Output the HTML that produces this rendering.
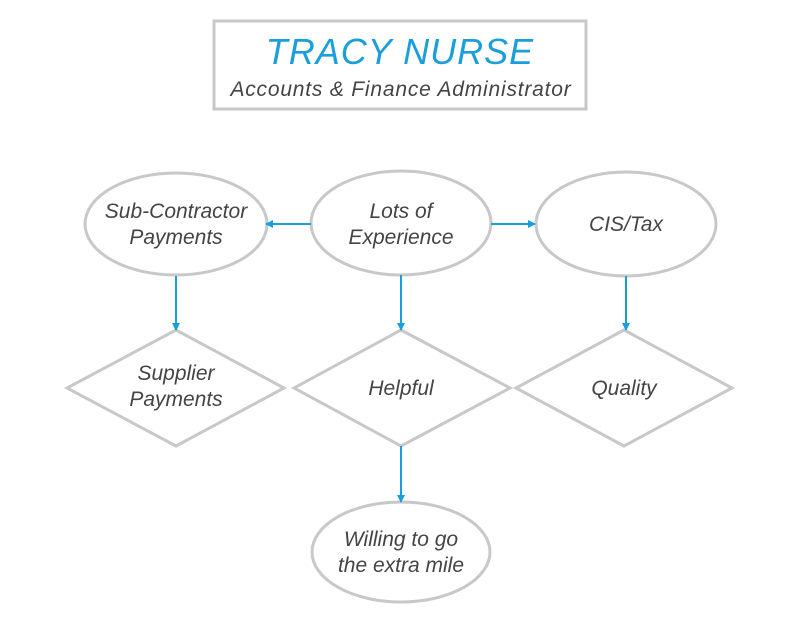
<!DOCTYPE html>
<html><head><meta charset="utf-8"><style>
html,body{margin:0;padding:0;background:#fff;}
svg{display:block;}
text{font-family:"Liberation Sans",sans-serif;font-style:italic;fill:#444;text-anchor:middle;}
</style></head><body>
<svg width="801" height="627" viewBox="0 0 801 627" xmlns="http://www.w3.org/2000/svg">
<defs><marker id="a" markerWidth="8" markerHeight="8" refX="7" refY="4" orient="auto" markerUnits="userSpaceOnUse"><path d="M0,0 L8,4 L0,8 Z" fill="#1a9fdb"/></marker></defs>
<rect x="214" y="21" width="372" height="88" fill="#fff" stroke="#c8c8c8" stroke-width="3"/>
<text x="400" y="64" style="font-size:36px;fill:#1a9fdb;letter-spacing:1px">TRACY NURSE</text>
<text x="401" y="96" style="font-size:21px;letter-spacing:0.8px">Accounts &amp; Finance Administrator</text>
<g fill="#fff" stroke="#c8c8c8" stroke-width="3">
<ellipse cx="176" cy="224" rx="91" ry="51"/>
<ellipse cx="401" cy="223" rx="90" ry="52"/>
<ellipse cx="626" cy="224" rx="90" ry="52"/>
<polygon points="176,330 284,388 176,446 67,388"/>
<polygon points="401,330 510,388 401,446 294,388"/>
<polygon points="624,330 732,388 624,446 516,388"/>
<ellipse cx="401" cy="552" rx="89" ry="50"/>
</g>
<g stroke="#1a9fdb" stroke-width="2" marker-end="url(#a)">
<line x1="311" y1="224" x2="266" y2="224"/>
<line x1="491" y1="224" x2="535" y2="224"/>
<line x1="176" y1="276" x2="176" y2="330"/>
<line x1="401" y1="275" x2="401" y2="330"/>
<line x1="626" y1="276" x2="626" y2="330"/>
<line x1="401" y1="446" x2="401" y2="502"/>
</g>
<g style="font-size:21px">
<text x="176" y="218">Sub-Contractor</text><text x="176" y="244">Payments</text>
<text x="401" y="218">Lots of</text><text x="401" y="244">Experience</text>
<text x="626" y="231">CIS/Tax</text>
<text x="176" y="380">Supplier</text><text x="176" y="406">Payments</text>
<text x="401" y="395">Helpful</text>
<text x="624" y="395">Quality</text>
<text x="401" y="546">Willing to go</text><text x="401" y="572">the extra mile</text>
</g>
</svg>
</body></html>
